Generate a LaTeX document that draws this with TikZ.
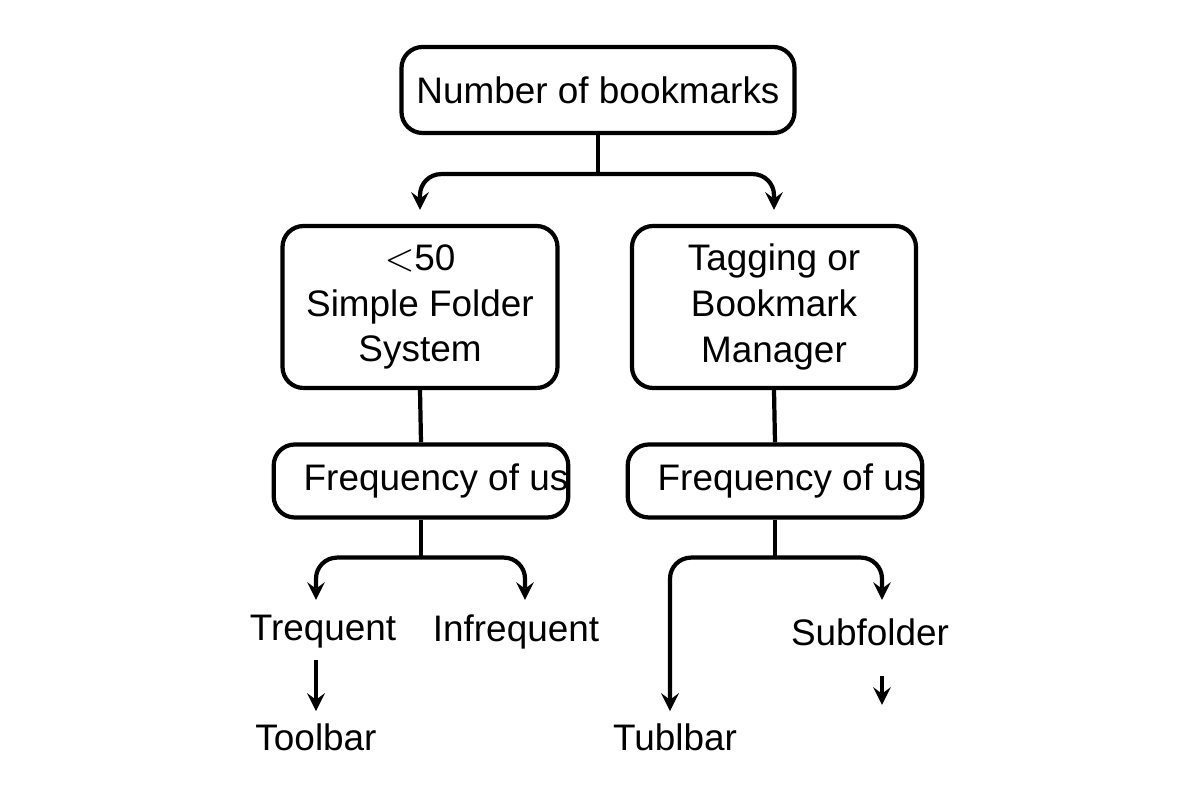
\documentclass[tikz,border=0pt]{standalone}
\usepackage{fontspec}
\setmainfont{Liberation Sans}
\usetikzlibrary{positioning,arrows}
\begin{document}
\begin{tikzpicture}[
    box/.style={draw, line width=1.2pt, rounded corners=6pt, align=center, font=\fontsize{10.5}{13}\selectfont},
    lbl/.style={font=\fontsize{10.5}{13}\selectfont},
    conn/.style={line width=1.2pt, rounded corners=6pt},
    arr/.style={conn, -stealth}]
        \useasboundingbox (0,0) rectangle (12,8);

        % boxes
        \node[box, minimum width=3.93cm, minimum height=0.86cm] (top) at (5.98,7.10) {Number of bookmarks};
        \node[box, minimum width=2.75cm, minimum height=1.62cm] (small) at (4.20,4.93) {$<$50\\Simple Folder\\System};
        \node[box, minimum width=2.84cm, minimum height=1.62cm] (large) at (7.74,4.93) {Tagging or\\Bookmark\\Manager};
        \node[box, minimum width=2.47cm, minimum height=0.73cm, inner xsep=0pt] (freqL) at (4.21,3.19) {\hspace*{0.3cm}Frequency of us};
        \node[box, minimum width=2.46cm, minimum height=0.73cm, inner xsep=0pt] (freqR) at (7.75,3.19) {\hspace*{0.3cm}Frequency of us};

        % leaves
        \node[lbl] (trequent) at (3.23,1.68) {Trequent};
        \node[lbl] (infrequent) at (5.16,1.68) {Infrequent};
        \node[lbl] (toolbar) at (3.16,0.63) {Toolbar};
        \node[lbl] (subfolder) at (8.70,1.68) {Subfolder};
        \node[lbl] (tublbar) at (6.75,0.63) {Tublbar};
        \coordinate (subend) at (8.82,0.95);

        % connectors
        \draw[conn] (top.south) -- ++(0,-0.39) coordinate (split);
        \draw[arr] (split) -| ([yshift=0.14cm]small.north);
        \draw[arr] (split) -| ([yshift=0.14cm]large.north);
        \draw[conn] (small.south) -- (freqL.north);
        \draw[conn] (large.south) -- (freqR.north);

        \draw[conn] (freqL.south) -- ++(0,-0.38) coordinate (splitL);
        \draw[arr] (splitL) -| (3.16,2.00);
        \draw[arr] (splitL) -| (5.25,2.00);
        \draw[arr] (3.16,1.40) -- (toolbar.north -| 3.16,0);

        \draw[conn] (freqR.south) -- ++(0,-0.38) coordinate (splitR);
        \draw[arr] (splitR) -| (tublbar.north -| 6.70,0);
        \draw[arr] (splitR) -| (8.82,2.00);
        \draw[arr] ([yshift=-0.18cm]subfolder.south -| subend) -- (subend);
\end{tikzpicture}
\end{document}
